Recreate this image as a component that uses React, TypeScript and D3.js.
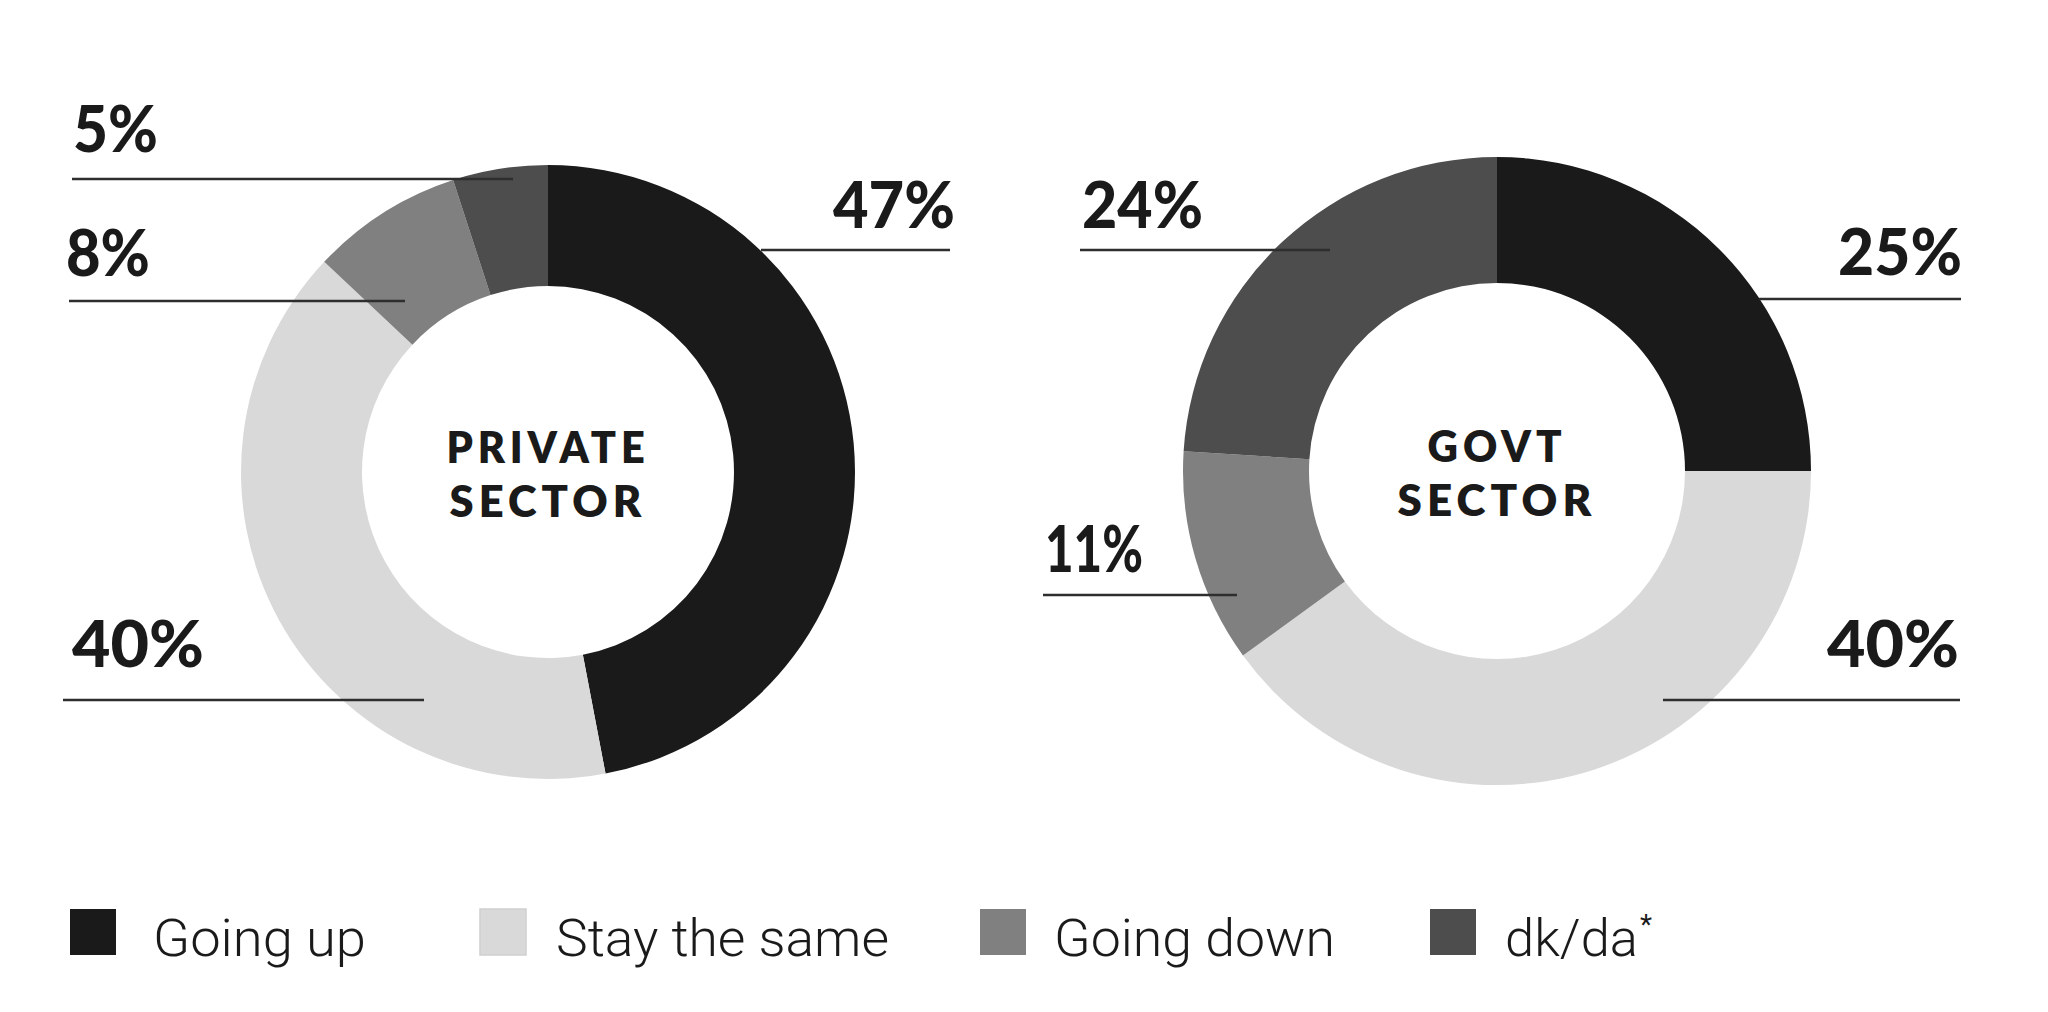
import React from "react";
import * as d3 from "d3";

// ---------- data ----------
const categories = ["Going up", "Stay the same", "Going down", "dk/da"];
const privateValues = [47, 40, 8, 5];
const govtValues = [25, 40, 11, 24];
const sectorTitles = [
  ["PRIVATE", "SECTOR"],
  ["GOVT", "SECTOR"],
];

// ---------- styles / layout ----------
const colors = ["#1a1a1a", "#d9d9d9", "#808080", "#4d4d4d"];
const W = 2048;
const H = 1012;
const TEXT = "#1a1a1a";
const PCT_FONT = "Lato, 'Open Sans', sans-serif";
const LEGEND_FONT = "Roboto, Lato, sans-serif";

const DONUT_LAYOUT = [
  { cx: 548, cy: 472, outer: 307, inner: 186 },
  { cx: 1497, cy: 471, outer: 314, inner: 188 },
];

// annotation layout per donut, indexed by category
type Lbl = { anchor: "start" | "end"; tx: number; ty: number; tw: number; ly: number; lx1: number; lx2: number };
const LABEL_LAYOUT: Lbl[][] = [
  [
    { anchor: "end", tx: 955, ty: 228, tw: 122, ly: 250, lx1: 761, lx2: 950 },
    { anchor: "start", tx: 72, ty: 667, tw: 132, ly: 700, lx1: 63, lx2: 424 },
    { anchor: "start", tx: 66, ty: 276, tw: 84, ly: 301, lx1: 69, lx2: 405 },
    { anchor: "start", tx: 73, ty: 152, tw: 85, ly: 179, lx1: 72, lx2: 513 },
  ],
  [
    { anchor: "end", tx: 1962, ty: 275, tw: 124, ly: 299, lx1: 1759, lx2: 1961 },
    { anchor: "end", tx: 1959, ty: 667, tw: 132, ly: 700, lx1: 1663, lx2: 1960 },
    { anchor: "start", tx: 1045, ty: 572, tw: 98, ly: 595, lx1: 1043, lx2: 1237 },
    { anchor: "start", tx: 1082, ty: 228, tw: 121, ly: 250, lx1: 1080, lx2: 1330 },
  ],
];
const TITLE_LAYOUT = [
  { w: [203, 197] },
  { w: [139, 199] },
];
const LEGEND_LAYOUT = {
  squareX: [70, 480, 980, 1430],
  textX: [153, 556, 1054, 1505],
  textW: [213, 333, 281, 133],
  y: 909,
  size: 46,
  baseline: 956,
};

function Donut({ values, index }: { values: number[]; index: number }) {
  const lay = DONUT_LAYOUT[index];
  const pie = d3
    .pie<number>()
    .sort(null)
    .value((d) => d)
    .startAngle(0)
    .endAngle(2 * Math.PI);
  const arc = d3
    .arc<d3.PieArcDatum<number>>()
    .innerRadius(lay.inner)
    .outerRadius(lay.outer);
  const arcs = pie(values);
  const labels = LABEL_LAYOUT[index];
  const title = sectorTitles[index];
  return (
    <g>
      <g transform={`translate(${lay.cx},${lay.cy})`}>
        {arcs.map((a, i) => (
          <path key={i} d={arc(a) || ""} fill={colors[i]} />
        ))}
        {title.map((t, i) => (
          <text
            key={t}
            x={0}
            y={i === 0 ? -9 : 45}
            textAnchor="middle"
            fontFamily={PCT_FONT}
            fontWeight={800}
            fontSize={43}
            letterSpacing={5}
            fill={TEXT}
            textLength={TITLE_LAYOUT[index].w[i]}
            lengthAdjust="spacingAndGlyphs"
          >
            {t}
          </text>
        ))}
      </g>
      {values.map((v, i) => {
        const l = labels[i];
        return (
          <g key={i}>
            <line x1={l.lx1} x2={l.lx2} y1={l.ly} y2={l.ly} stroke="#2e2e2e" strokeWidth={2.5} />
            <text
              x={l.tx}
              y={l.ty}
              textAnchor={l.anchor}
              fontFamily={PCT_FONT}
              fontWeight={900}
              fontSize={64}
              fill={TEXT}
              textLength={l.tw}
              lengthAdjust="spacingAndGlyphs"
            >
              {`${v}%`}
            </text>
          </g>
        );
      })}
    </g>
  );
}

export default function App() {
  return (
    <svg
      width={W}
      height={H}
      viewBox={`0 0 ${W} ${H}`}
      style={{ position: "absolute", left: 0, top: 0, background: "#ffffff" }}
    >
      <rect x={0} y={0} width={W} height={H} fill="#ffffff" />
      <Donut values={privateValues} index={0} />
      <Donut values={govtValues} index={1} />
      <g>
        {categories.map((c, i) => {
          const isDk = c === "dk/da";
          return (
            <g key={c}>
              <rect
                x={LEGEND_LAYOUT.squareX[i]}
                y={LEGEND_LAYOUT.y}
                width={LEGEND_LAYOUT.size}
                height={LEGEND_LAYOUT.size}
                fill={colors[i]}
                stroke={i === 1 ? "#cfcfcf" : "none"}
                strokeWidth={1.5}
              />
              <text
                x={LEGEND_LAYOUT.textX[i]}
                y={LEGEND_LAYOUT.baseline}
                fontFamily={LEGEND_FONT}
                fontWeight={300}
                fontSize={52}
                fill={TEXT}
                textLength={LEGEND_LAYOUT.textW[i]}
                lengthAdjust="spacingAndGlyphs"
              >
                {c}
              </text>
              {isDk && (
                <text
                  x={LEGEND_LAYOUT.textX[i] + LEGEND_LAYOUT.textW[i] + 2}
                  y={LEGEND_LAYOUT.baseline - 22}
                  fontFamily={LEGEND_FONT}
                  fontWeight={400}
                  fontSize={28}
                  fill={TEXT}
                >
                  *
                </text>
              )}
            </g>
          );
        })}
      </g>
    </svg>
  );
}
